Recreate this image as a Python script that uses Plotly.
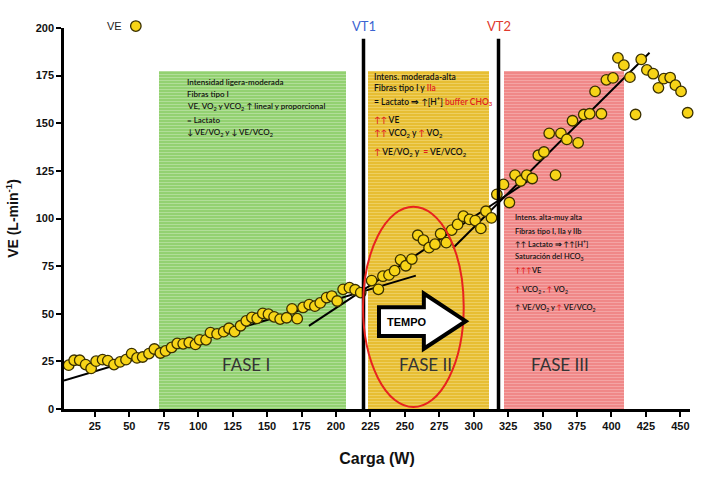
import plotly.graph_objects as go

# ---------------- data ----------------
carga = [6.0, 10.0, 14.0, 18.3, 22.3, 25.9, 30.6, 34.4, 38.9, 43.3, 47.6, 51.7, 55.6, 59.7,
         64.3, 68.2, 72.5, 76.3, 80.7, 84.8, 89.1, 93.5, 98.0, 101.1, 105.7, 108.9, 113.7,
         118.5, 122.4, 126.4, 130.8, 134.9, 139.0, 142.8, 146.9, 151.0, 155.1, 159.5, 164.2,
         168.1, 171.9, 176.1, 180.6, 184.7, 188.6, 193.2, 197.0, 200.9, 205.2, 209.8, 213.9,
         218.0, 225.9, 230.8, 234.1, 238.5, 242.6, 246.9, 250.7, 255.1, 259.4, 263.5, 267.6,
         271.9, 276.0, 280.1, 284.0, 288.3, 292.5, 297.0, 301.1, 305.2, 308.9, 312.9, 316.8,
         321.6, 325.9, 330.0, 334.1, 338.5, 342.5, 346.9, 351.0, 354.8, 359.4, 363.3, 367.6,
         371.7, 375.8, 379.9, 384.2, 388.1, 392.7, 396.3, 401.1, 404.7, 409.0, 413.4, 417.5,
         421.6, 425.7, 430.3, 434.1, 438.0, 442.6, 446.4, 450.5, 455.3]
ve = [23.0, 25.6, 25.6, 23.3, 21.3, 25.1, 25.9, 25.4, 23.3, 24.7, 25.9, 29.1, 26.8, 27.3,
      29.1, 31.5, 29.4, 30.5, 32.3, 34.4, 34.2, 34.9, 33.9, 36.3, 36.3, 40.1, 39.4,
      40.6, 42.4, 40.6, 43.7, 46.3, 48.1, 47.6, 50.2, 49.8, 48.4, 47.2, 47.9,
      52.6, 47.4, 53.3, 54.8, 54.0, 55.7, 58.5, 59.3, 56.7, 62.8, 63.7, 62.6,
      61.1, 67.4, 62.8, 69.7, 70.4, 72.6, 78.3, 75.2, 78.7, 91.2, 88.7, 84.7,
      86.5, 92.0, 87.3, 93.9, 96.9, 101.2, 99.5, 98.9, 94.8, 103.8, 100.3, 112.7,
      117.9, 108.4, 122.8, 119.7, 122.8, 121.0, 133.2, 134.9, 144.7, 122.8, 144.7, 141.5,
      151.3, 139.7, 154.6, 155.0, 166.7, 155.0, 172.8, 173.8, 184.3, 180.5, 174.2, 154.6,
      183.5, 178.0, 176.0, 168.6, 173.4, 174.0, 170.0, 166.7, 155.5]

# regression segments (start/end load and VE)
fit_x0 = [2.6, 180.4, 285.0]
fit_x1 = [258.0, 343.0, 427.6]
fit_y0 = [15.0, 43.6, 84.5]
fit_y1 = [70.0, 121.4, 187.0]

# phases
fase_names = ["FASE I", "FASE II", "FASE III"]
fase_start = [71.3, 223.3, 321.7]
fase_end = [207.4, 310.8, 409.3]
fase_top = [177.2, 177.2, 177.2]
fase_bg = ["#8fd06c", "#e6bd2e", "#ef8585"]
fase_fg = ["rgba(255,255,255,0.6)", "rgba(255,245,200,0.65)", "rgba(255,235,235,0.6)"]

umbral_names = ["VT1", "VT2"]
umbral_x = [220.0, 318.0]
umbral_col = ["#3b63d1", "#e0392e"]

x_ticks = [25, 50, 75, 100, 125, 150, 175, 200, 225, 250, 275, 300, 325, 350, 375, 400, 425, 450]
y_ticks = [0, 25, 50, 75, 100, 125, 150, 175, 200]

# ---------------- layout geometry ----------------
W, H = 712, 477
L, R, T, B = 62, 22, 24, 67
PW, PH = W - L - R, H - T - B
XMIN, XMAX = 2.6, 457.0
YMIN, YMAX = 0, 200


def X(px):
    return XMIN + (px - L) / PW * (XMAX - XMIN)


def Y(py):
    return YMIN + (T + PH - py) / PH * (YMAX - YMIN)


def YP(py):
    return (T + PH - py) / PH


fig = go.Figure()

# phase boxes as striped bars
for i in range(3):
    fig.add_trace(go.Bar(
        x=[(fase_start[i] + fase_end[i]) / 2], y=[fase_top[i]],
        width=[fase_end[i] - fase_start[i]],
        marker=dict(color=fase_bg[i], line=dict(width=0),
                    pattern=dict(shape="-", fgcolor=fase_fg[i], bgcolor=fase_bg[i],
                                 size=3, solidity=0.4, fillmode="overlay")),
        showlegend=False, hoverinfo="skip"))

# regression lines
for i in range(3):
    fig.add_trace(go.Scatter(x=[fit_x0[i], fit_x1[i]], y=[fit_y0[i], fit_y1[i]],
                             mode="lines", line=dict(color="black", width=2),
                             showlegend=False, hoverinfo="skip", cliponaxis=False))

# data
fig.add_trace(go.Scatter(x=carga, y=ve, mode="markers", name=" ",
                         marker=dict(size=10.5, color="#f7d417",
                                     line=dict(color="#3a3000", width=1.3)),
                         cliponaxis=False))

shapes = []
# threshold lines
for i in range(2):
    shapes.append(dict(type="line", xref="x", yref="y", x0=umbral_x[i], x1=umbral_x[i],
                       y0=Y(35), y1=Y(414), line=dict(color="black", width=3.5),
                       layer="above"))
# ellipse
shapes.append(dict(type="circle", xref="x", yref="y", x0=X(362), x1=X(463),
                   y0=Y(408), y1=Y(205), line=dict(color="#e8231f", width=2),
                   layer="above"))
# arrow
pts = [(378, 307), (423, 307), (423, 293), (465, 321), (423, 349), (423, 336), (378, 336)]
path = "M " + " L ".join(f"{X(a)},{Y(b)}" for a, b in pts) + " Z"
shapes.append(dict(type="path", xref="x", yref="y", path=path, fillcolor="white",
                   line=dict(color="black", width=4), layer="above"))
fig.update_layout(shapes=shapes)

ann = []
BODY = "Lato, Open Sans, sans-serif"


def txt(px, py, s, size=8, color="#111", font=BODY, xa="left", weight=600):
    ann.append(dict(x=X(px), y=Y(py), xref="x", yref="y", text=s, showarrow=False,
                    xanchor=xa, yanchor="middle",
                    font=dict(size=size, color=color, family=font, weight=weight)))


RED = "#e02020"
# phase I text
txt(183, 79, "Intensidad ligera-moderada")
txt(183, 91, "Fibras tipo I")
txt(183, 104, "VE, VO<sub>2</sub> y VCO<sub>2</sub> \u2191 lineal y proporcional")
txt(183, 117, "= Lactato")
txt(183, 130, "\u2193 VE/VO<sub>2</sub> y \u2193 VE/VCO<sub>2</sub>")
# phase II text
txt(371, 74, "Intens. moderada-alta", 8.5)
txt(371, 85, f"Fibras tipo I y <span style='color:{RED}'>IIa</span>", 8.5)
txt(371, 98, f"= Lactato \u21d2 \u2191[H<sup>+</sup>] <span style='color:{RED}'>buffer CHO<sub>3</sub></span>", 8.5)
txt(371, 117, f"<span style='color:{RED}'>\u2191\u2191</span> VE", 8.5)
txt(371, 131, f"<span style='color:{RED}'>\u2191\u2191</span> VCO<sub>2</sub> y <span style='color:{RED}'>\u2191</span> VO<sub>2</sub>", 8.5)
txt(371, 150, f"<span style='color:{RED}'>\u2191</span> VE/VO<sub>2</sub> y  <span style='color:{RED}'>=</span> VE/VCO<sub>2</sub>", 8.5)
# phase III text
txt(512, 216, "Intens. alta-muy alta", 7.5)
txt(512, 230, "Fibras tipo I, IIa y IIb", 7.5)
txt(512, 243, "\u2191\u2191 Lactato \u21d2 \u2191\u2191[H<sup>+</sup>]", 7.5)
txt(512, 256, "Saturación del HCO<sub>3</sub>", 7.5)
txt(512, 270, f"<span style='color:{RED}'>\u2191\u2191\u2191</span>VE", 7.5)
txt(512, 289, f"<span style='color:{RED}'>\u2191</span> VCO<sub>2</sub> , <span style='color:{RED}'>\u2191</span> VO<sub>2</sub>", 7.5)
txt(512, 308, f"\u2191 VE/VO<sub>2</sub> y <span style='color:{RED}'>\u2191</span> VE/VCO<sub>2</sub>", 7.5)

# FASE labels
for name, cx in zip(fase_names, [245, 425, 560]):
    txt(cx, 365, name, 17, "#333", BODY, "center", 400)
# TEMPO
ann.append(dict(x=X(406), y=Y(322), xref="x", yref="y", text="<b>TEMPO</b>", showarrow=False,
                font=dict(size=11, color="black", family="Arial, Liberation Sans")))
# VT labels (outside the plot area -> paper y)
for i in range(2):
    ann.append(dict(x=umbral_x[i], y=YP(22), xref="x", yref="paper", text=umbral_names[i],
                    showarrow=False, yanchor="middle",
                    font=dict(size=13, color=umbral_col[i], family=BODY)))
# legend label
ann.append(dict(x=X(113), y=YP(22), xref="x", yref="paper", text="VE", showarrow=False,
                yanchor="middle",
                font=dict(size=11, color="#222", family="Arial, Liberation Sans")))
fig.update_layout(annotations=ann)

axfont = dict(family="Arial, Liberation Sans", size=11, color="#111")
fig.update_layout(
    width=W, height=H, margin=dict(l=L, r=R, t=T, b=B),
    paper_bgcolor="white", plot_bgcolor="white",
    barmode="overlay", bargap=0,
    showlegend=True,
    legend=dict(x=(114 - L) / PW, y=YP(22), xanchor="left", yanchor="middle",
                bgcolor="rgba(0,0,0,0)", font=dict(size=11)),
    xaxis=dict(range=[XMIN, XMAX], tickvals=x_ticks, ticktext=[f"<b>{v}</b>" for v in x_ticks],
               showgrid=False, zeroline=False, showline=True, linecolor="black", linewidth=2.5,
               ticks="outside", ticklen=5, tickwidth=2, tickcolor="black", tickfont=axfont,
               title=dict(text="<b>Carga (W)</b>", font=dict(size=16, color="#111",
                          family="Arial, Liberation Sans"), standoff=22)),
    yaxis=dict(range=[YMIN, YMAX], tickvals=y_ticks, ticktext=[f"<b>{v}</b>" for v in y_ticks],
               showgrid=False, zeroline=False, showline=True, linecolor="black", linewidth=2.5,
               ticks="outside", ticklen=5, tickwidth=2, tickcolor="black", tickfont=axfont,
               title=dict(text="<b>VE (L-min<sup>-1</sup>)</b>", font=dict(size=14, color="#111",
                          family="Arial, Liberation Sans"), standoff=14)),
)

fig.write_html("out.html")
